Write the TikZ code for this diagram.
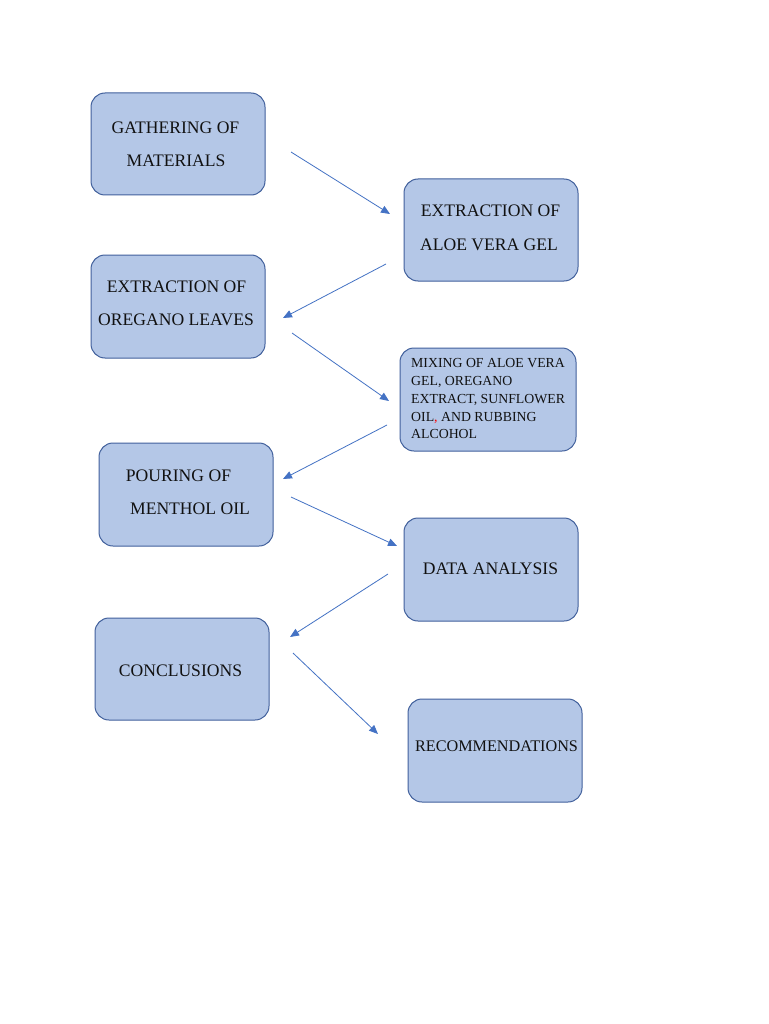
\documentclass[tikz,border=0pt]{standalone}
\usepackage{fontspec}
\setmainfont{Liberation Serif}
\usetikzlibrary{arrows.meta}
\definecolor{boxfill}{HTML}{B4C7E7}
\definecolor{boxdraw}{HTML}{41609C}
\definecolor{arr}{HTML}{4472C4}
\definecolor{ink}{HTML}{111111}
\tikzset{
  stepbox/.style={draw=boxdraw, fill=boxfill, rounded corners=14pt, line width=1pt,
    minimum width=174pt, minimum height=102pt, inner sep=0pt},
  lbl/.style={anchor=base, font=\fontsize{17.6}{17.6}\selectfont, inner sep=0pt, text=ink},
  small/.style={anchor=north west, align=left, font=\fontsize{13.8}{17.75}\selectfont, inner sep=0pt, text=ink},
  flow/.style={draw=arr, line width=0.8pt, -{Triangle[length=9pt,width=7.5pt]}}
}
\begin{document}
\begin{tikzpicture}[x=1pt,y=-1pt]
\useasboundingbox (0,0) rectangle (768,1024);
\fill[white] (0,0) rectangle (768,1024);
% boxes
\node[stepbox] (b1) at (178,144) {};
\node[stepbox] (b2) at (491,230) {};
\node[stepbox, minimum height=103pt] (b3) at (178,306.5) {};
\node[stepbox, minimum width=176pt, minimum height=103pt] (b4) at (488,399.5) {};
\node[stepbox, minimum height=103pt] (b5) at (186,494.5) {};
\node[stepbox, minimum height=103pt] (b6) at (491,569.5) {};
\node[stepbox] (b7) at (182,669) {};
\node[stepbox, minimum height=103pt] (b8) at (495,750.5) {};
% labels
\node[lbl] (t1a) at (175.5,134) {GATHERING OF};
\node[lbl] (t1b) at (176,167) {MATERIALS};
\node[lbl] (t2a) at (490.5,217) {EXTRACTION OF};
\node[lbl] (t2b) at (489,250) {ALOE VERA GEL};
\node[lbl] (t3a) at (176.5,292) {EXTRACTION OF};
\node[lbl] (t3b) at (176,325) {OREGANO LEAVES};
\node[small] (t4) at (411,358.5) {MIXING OF ALOE VERA\\GEL, OREGANO\\EXTRACT, SUNFLOWER\\OIL{\color{red},} AND RUBBING\\ALCOHOL};
\node[lbl] (t5a) at (178.5,481) {POURING OF};
\node[lbl] (t5b) at (190,514) {MENTHOL OIL};
\node[lbl] (t6) at (490.5,574) {DATA ANALYSIS};
\node[lbl] (t7) at (180.5,676) {CONCLUSIONS};
\node[lbl, font=\fontsize{16.2}{16.2}\selectfont] (t8) at (496.5,751) {RECOMMENDATIONS};
% arrow end points
\coordinate (a1s) at (291,152); \coordinate (a1e) at (390,214);
\coordinate (a2s) at (386,264); \coordinate (a2e) at (283,318);
\coordinate (a3s) at (292,333); \coordinate (a3e) at (389,401);
\coordinate (a4s) at (387,425); \coordinate (a4e) at (283,479);
\coordinate (a5s) at (291,497); \coordinate (a5e) at (397,546);
\coordinate (a6s) at (388,574); \coordinate (a6e) at (290,637);
\coordinate (a7s) at (293,653); \coordinate (a7e) at (378,734);
\draw[flow] (a1s) -- (a1e);
\draw[flow] (a2s) -- (a2e);
\draw[flow] (a3s) -- (a3e);
\draw[flow] (a4s) -- (a4e);
\draw[flow] (a5s) -- (a5e);
\draw[flow] (a6s) -- (a6e);
\draw[flow] (a7s) -- (a7e);
\end{tikzpicture}
\end{document}
